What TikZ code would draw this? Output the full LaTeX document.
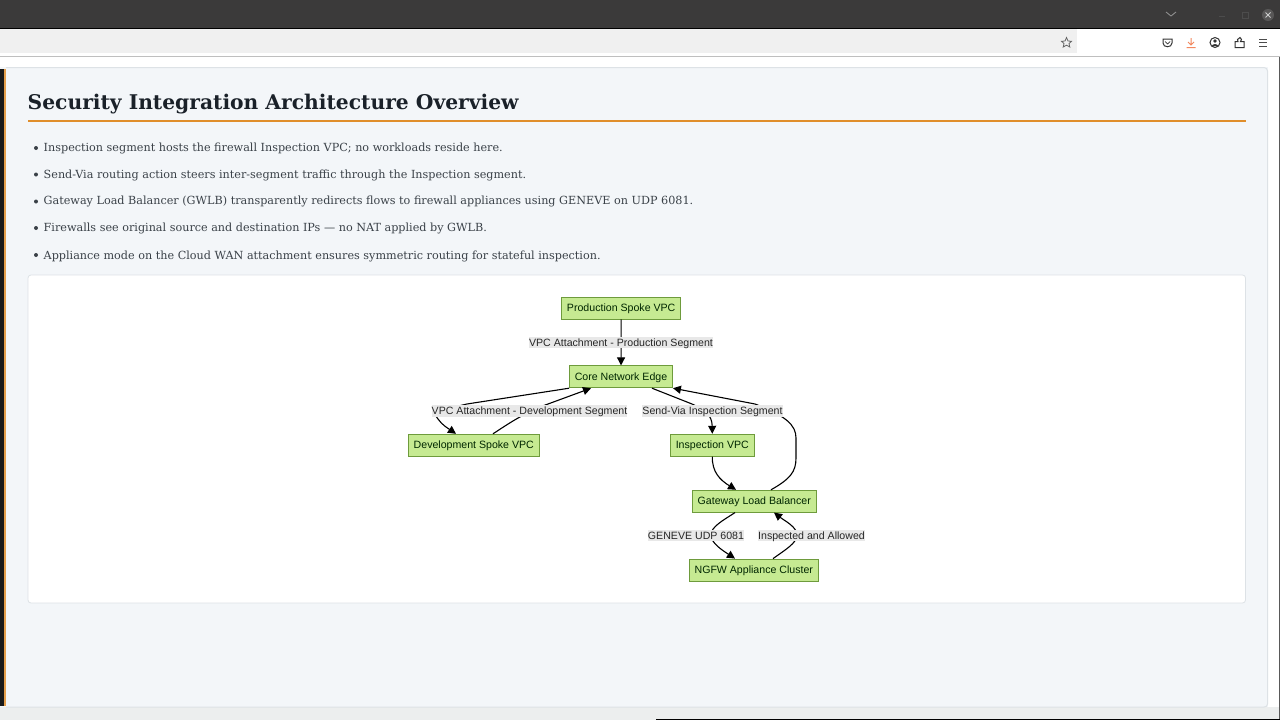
\documentclass[tikz,border=0pt]{standalone}
\usepackage{fontspec}
\setmainfont{DejaVu Serif}
\newfontfamily\diagramfont{Liberation Sans}
\usetikzlibrary{arrows.meta}
\definecolor{titlebar}{HTML}{3B3A3A}
\definecolor{toolbar}{HTML}{F0F0F0}
\definecolor{pagebg}{HTML}{F3F6F9}
\definecolor{cardline}{HTML}{DDE2E6}
\definecolor{margin}{HTML}{ECEEEE}
\definecolor{accent}{HTML}{E08E2B}
\definecolor{titleink}{HTML}{1A2129}
\definecolor{bodyink}{HTML}{3A4148}
\definecolor{boxfill}{HTML}{C6EA92}
\definecolor{boxline}{HTML}{6E9B3C}
\definecolor{labelfill}{HTML}{E8E8E8}
\definecolor{iconink}{HTML}{333333}
\tikzset{
  vpcbox/.style={draw=boxline,fill=boxfill,line width=.8pt,inner sep=0pt,minimum height=22pt,text height=9pt,text depth=2pt,font=\diagramfont\fontsize{10.6}{13}\selectfont,text=black!85!green},
  seglabel/.style={fill=labelfill,inner xsep=0pt,inner ysep=0pt,text height=9.7pt,text depth=2pt,font=\diagramfont\fontsize{10.6}{13}\selectfont,text=black!85},
  flow/.style={line width=1.1pt,black,-{Triangle[length=8pt,width=8pt]}},
  bullet/.style={anchor=base west,inner sep=0pt,font=\fontsize{11.2}{13}\selectfont,text=bodyink},
  dot/.style={circle,fill=bodyink,inner sep=0pt,minimum size=4pt},
  icon/.style={draw=iconink,line width=1pt},
}
\begin{document}
\begin{tikzpicture}[x=1pt,y=-1pt]
\useasboundingbox (0,0) rectangle (1280,720);
% window
\fill[white] (0,0) rectangle (1280,720);
\fill[titlebar] (0,0) rectangle (1280,28);
\draw[black,line width=1pt] (0,28.5) -- (1280,28.5);
\fill[toolbar] (0,29) rectangle (1077,53);
\draw[black!25,line width=1pt] (0,56.5) -- (1280,56.5);
\fill[margin] (0,707) rectangle (1280,720);
\fill[black] (656,719) rectangle (1280,720);
\fill[black!65] (1278.5,57) rectangle (1279.2,719);
% window buttons
\draw[black!45,line width=.9pt] (1166,12) -- (1171,16) -- (1176,12);
\draw[black!70,line width=1pt] (1219,16) -- (1225,16);
\draw[black!70,line width=1pt] (1242,12) rectangle (1248,18);
\fill[white!15!titlebar] (1268,15) circle (6);
\draw[black!20,line width=.8pt] (1265.5,12.5) -- (1270.5,17.5) (1265.5,17.5) -- (1270.5,12.5);
% toolbar icons
\draw[icon,draw=black!60,line width=.8pt] (1066.5,37.5) -- (1068,41) -- (1071.5,41.3) -- (1069,43.5) -- (1069.8,47) -- (1066.5,45.2) -- (1063.2,47) -- (1064,43.5) -- (1061.5,41.3) -- (1065,41) -- cycle;
\draw[icon] (1163,39) -- (1172,39) -- (1172,43) .. controls (1172,48) and (1163,48) .. (1163,43) -- cycle;
\draw[icon,line width=.7pt] (1165,41.5) -- (1167.5,44) -- (1170,41.5);
\draw[accent!60!red!70!white,line width=1pt] (1191,38) -- (1191,44.5) (1188,42) -- (1191,45) -- (1194,42) (1186.5,47.5) -- (1195.5,47.5);
\draw[icon] (1215,42.5) circle (5);
\fill[iconink] (1215,41) circle (1.8);
\fill[iconink] (1211.8,46) .. controls (1212.5,43.5) and (1217.5,43.5) .. (1218.2,46) -- cycle;
\draw[icon] (1235,47.5) -- (1235,41.5) -- (1238,41.5) -- (1237.5,39.5) -- (1240,37.5) -- (1241.5,39.5) -- (1240.5,41.5) -- (1244,41.5) -- (1244,47.5) -- cycle;
\draw[icon,draw=black!70] (1259,39) -- (1267,39) (1259,42.5) -- (1267,42.5) (1259,46) -- (1267,46);
% card
\fill[pagebg] (0,67) rectangle (1268,707);
\fill[black!90] (0,69) rectangle (4,706);
\fill[accent!85!white] (4,69) rectangle (6,706);
\draw[cardline,line width=1pt] (6,67.5) -- (1264,67.5) .. controls (1266,67.5) and (1267.5,69) .. (1267.5,71) -- (1267.5,704) .. controls (1267.5,706) and (1266,707) .. (1264,707) -- (6,707);
% heading
\node[anchor=base west,inner sep=0pt,text=titleink,font=\bfseries\fontsize{20.25}{24}\selectfont] (heading) at (27.5,109.4) {Security Integration Architecture Overview};
\draw[accent,line width=1.6pt] (28,121) -- (1246,121);
% bullets
\node[bullet] (item1) at (43.5,151) {Inspection segment hosts the firewall Inspection VPC; no workloads reside here.};
\node[bullet] (item2) at (43.5,178) {Send-Via routing action steers inter-segment traffic through the Inspection segment.};
\node[bullet] (item3) at (43.5,204.5) {Gateway Load Balancer (GWLB) transparently redirects flows to firewall appliances using GENEVE on UDP 6081.};
\node[bullet] (item4) at (43.5,231) {Firewalls see original source and destination IPs — no NAT applied by GWLB.};
\node[bullet] (item5) at (43.5,259) {Appliance mode on the Cloud WAN attachment ensures symmetric routing for stateful inspection.};
\foreach \y/\n in {148/1,174.5/2,201.5/3,228/4,255/5}
  \node[dot] (dot\n) at (36,\y) {};
% diagram panel
\draw[cardline,fill=white,line width=.8pt,rounded corners=3pt] (28,275) rectangle (1245.5,603);
\node[vpcbox,minimum width=119pt] (prod) at (621.2,308) {Production Spoke VPC};
\node[vpcbox,minimum width=103pt] (core) at (621,376.8) {Core Network Edge};
\node[vpcbox,minimum width=131pt] (dev) at (473.8,445.2) {Development Spoke VPC};
\node[vpcbox,minimum width=83.5pt] (insp) at (712.3,445.2) {Inspection VPC};
\node[vpcbox,minimum width=123.5pt] (gwlb) at (754.3,501.2) {Gateway Load Balancer};
\node[vpcbox,minimum width=129pt] (ngfw) at (753.8,570) {NGFW Appliance Cluster};
% connectors
\draw[flow] (prod) -- (core);
\draw[flow] (core.south west) -- (467,404) .. controls (450,408) and (430,412) .. (438,419) .. controls (442,425) and (449,429) .. (dev.north -| 456,0);
\draw[flow] (dev.north -| 493,0) .. controls (505,426) and (525,412) .. (548,404) -- (core.south -| 591,0);
\draw[flow] (core.south -| 652,0) -- (692,404) .. controls (705,410) and (712,415) .. (insp.north);
\draw[flow] (insp.south) .. controls (712,472) and (720,480) .. (gwlb.north -| 736,0);
\draw[flow] (gwlb.north -| 771,0) .. controls (790,479) and (796,472) .. (796,458) -- (796,438) .. controls (796,425) and (786,416) .. (755,404) -- (core.south east);
\draw[flow] (gwlb.south -| 735,0) .. controls (722,521) and (711,527) .. (711,535) .. controls (711,543) and (722,550) .. (ngfw.north -| 735,0);
\draw[flow] (ngfw.north -| 773,0) .. controls (785,550) and (797,543) .. (797,535) .. controls (797,527) and (785,521) .. (gwlb.south -| 774,0);
% connector labels
\node[seglabel] (lblprod) at (621,342.5) {VPC Attachment - Production Segment};
\node[seglabel] (lbldev) at (529.5,411) {VPC Attachment - Development Segment};
\node[seglabel] (lblsend) at (712.5,411) {Send-Via Inspection Segment};
\node[seglabel] (lblgen) at (696,535.5) {GENEVE UDP 6081};
\node[seglabel] (lblinsp) at (811.5,535.5) {Inspected and Allowed};
\end{tikzpicture}
\end{document}
